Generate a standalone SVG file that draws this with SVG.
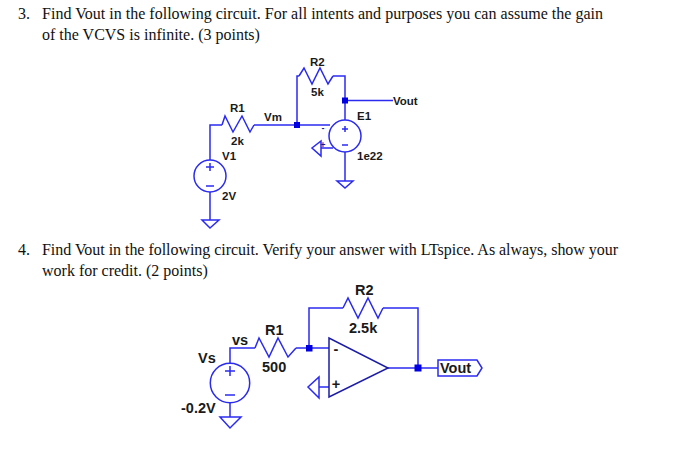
<svg xmlns="http://www.w3.org/2000/svg" width="679" height="468" viewBox="0 0 679 468">
<style>
.t{font-family:"Liberation Serif",serif;font-size:16px;fill:#111}
.a{font-family:"Liberation Sans",sans-serif;font-weight:bold;font-size:11.500px;fill:#1a1a1a}
.b{font-family:"Liberation Sans",sans-serif;font-weight:bold;font-size:14.500px;fill:#1a1a1a}
.m{font-family:"Liberation Sans",sans-serif;font-weight:bold;font-size:9px;fill:#1a1a80;text-anchor:middle}
.w{fill:none;stroke:#2b2bf0;stroke-width:1.500}
.s{fill:none;stroke:#1c1ca8;stroke-width:1.500}
.d{fill:#0000e0;stroke:none}
</style>
<rect width="679" height="468" fill="#fff"/>
<g id="text">
<text class="t" x="18" y="19">3.</text>
<text class="t" x="42" y="19" textLength="561">Find Vout in the following circuit. For all intents and purposes you can assume the gain</text>
<text class="t" x="42" y="40">of the VCVS is infinite. (3 points)</text>
<text class="t" x="18" y="255">4.</text>
<text class="t" x="42" y="255" textLength="576">Find Vout in the following circuit. Verify your answer with LTspice. As always, show your</text>
<text class="t" x="42" y="276">work for credit. (2 points)</text>
</g>
<g id="connectors">
<path class="w" d="M210 160V125H222M254 125H330M297 125V76H299M333 76H345V120M345 100.500H393M345 152V181M210 192V220M321 148H333"/>
<path class="w" d="M230 363V348H255M296 348H329M309 348V308H343M383 308H418V368M388 368H438M319 387H329M230 403V417"/>
</g>
<g id="R1a"><path class="w" d="M222 125L225 116L233 132L242 116L250 132L254 125"/><text class="a" x="230" y="112">R1</text><text class="a" x="231" y="145">2k</text></g>
<g id="R2a"><path class="w" d="M299 76L304 68L312 84L320 68L328 84L333 76"/><text class="a" x="310" y="66">R2</text><text class="a" x="311" y="96">5k</text></g>
<g id="V1"><circle class="w" cx="210" cy="176" r="16"/><path class="w" d="M206 167H214M210 163V171M206 186H214"/><text class="a" x="222" y="160">V1</text><text class="a" x="222" y="200">2V</text></g>
<g id="G1"><path class="w" d="M202 220H219L210 228Z"/></g>
<g id="E1"><circle class="w" cx="345" cy="136" r="16"/><path class="w" d="M342 129H348M345 126V132M342 145H348"/><text class="m" x="323" y="131">-</text><text class="m" x="323" y="148">+</text><text class="a" x="357" y="120">E1</text><text class="a" x="357" y="160">1e22</text><path class="w" d="M321 141V156L312 148Z"/><path class="w" d="M337 181H353L345 188Z"/></g>
<g id="VmLabel"><text class="a" x="264" y="121">Vm</text><text class="a" x="393" y="104.500">Vout</text></g>
<g id="nodes1"><rect class="d" x="294" y="122" width="6" height="6"/><rect class="d" x="342" y="97.500" width="6" height="6"/></g>
<g id="R1b"><path class="w" d="M255 348L259 338L269 357L278 338L288 357L296 348"/><text class="b" x="265" y="335">R1</text><text class="b" x="262" y="372">500</text></g>
<g id="R2b"><path class="w" d="M343 308L348 298L358 318L368 298L378 318L383 308"/><text class="b" x="355" y="295">R2</text><text class="b" x="349" y="333">2.5k</text></g>
<g id="Vs"><circle class="w" cx="230" cy="383" r="19.700"/><path class="w" d="M225 371H235M230 366V376M225 395H235"/><text class="b" x="198" y="363">Vs</text><text class="b" x="181" y="413">-0.2V</text><text class="b" x="232" y="345">vs</text></g>
<g id="G2"><path class="w" d="M220 417H241L230 428Z"/></g>
<g id="Opamp"><path class="s" d="M329 338V397L388 368Z"/><text class="b" x="336" y="354" style="text-anchor:middle">-</text><text class="b" x="336" y="389" style="text-anchor:middle">+</text><path class="w" d="M319 377V398L308 387Z"/></g>
<g id="nodes2"><rect class="d" x="306" y="345" width="6.500" height="6.500"/><rect class="d" x="414.500" y="364.500" width="7" height="7"/></g>
<g id="VoutTag"><path class="w" d="M438 360H477L482 368L477 376H438Z"/><text class="b" x="440" y="373">Vout</text></g>
</svg>
